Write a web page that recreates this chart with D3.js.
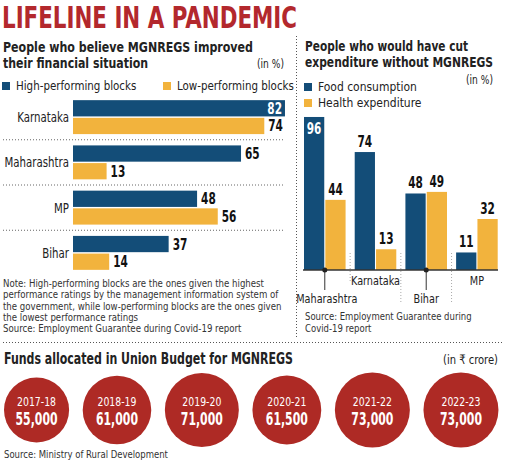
<!DOCTYPE html>
<html>
<head>
<meta charset="utf-8">
<script src="https://d3js.org/d3.v7.min.js"></script>
<style>
  body { margin: 0; background: #fff; }
  svg text { font-family: "DejaVu Sans Condensed", "DejaVu Sans", sans-serif; fill: #222; }
</style>
</head>
<body>
<div id="chart"></div>
<script>
// ---- data ----
var states1 = ["Karnataka", "Maharashtra", "MP", "Bihar"];
var highBlocks = [82, 65, 48, 37];
var lowBlocks = [74, 13, 56, 14];
var series1 = ["High-performing blocks", "Low-performing blocks"];

var states2 = ["Maharashtra", "Karnataka", "Bihar", "MP"];
var foodCut = [96, 74, 48, 11];
var healthCut = [44, 13, 49, 32];
var series2 = ["Food consumption", "Health expenditure"];

var years = ["2017-18", "2018-19", "2019-20", "2020-21", "2021-22", "2022-23"];
var funds = [55000, 61000, 71000, 61500, 73000, 73000];

var noteLines = [
  "Note: High-performing blocks are the ones given the highest",
  "performance ratings by the management information system of",
  "the government, while low-performing blocks are the ones given",
  "the lowest performance ratings",
  "Source: Employment Guarantee during Covid-19 report"
];

var svgWidth = 505;
var svgHeight = 464;
var blue = "#134d78";
var yellow = "#f2b33d";
var red = "#ae2a25";
var colors = [blue, yellow];

var svg = d3.select("#chart")
  .append("svg")
  .attr("width", svgWidth)
  .attr("height", svgHeight);

function addText(x, y, s, size, weight, anchor) {
  return svg.append("text")
    .attr("x", x)
    .attr("y", y)
    .attr("font-size", size)
    .attr("font-weight", weight || "normal")
    .attr("text-anchor", anchor || "start")
    .text(s);
}

// the original uses a narrow font, so squeeze our text horizontally
function fit(sel, w) {
  return sel.attr("textLength", w).attr("lengthAdjust", "spacingAndGlyphs");
}
function squeeze(sel, k) {
  sel.each(function() {
    var w = this.getComputedTextLength();
    d3.select(this).attr("textLength", w * k).attr("lengthAdjust", "spacingAndGlyphs");
  });
  return sel;
}

// headline
fit(addText(2, 28, "LIFELINE IN A PANDEMIC", 31, "bold"), 295)
  .style("fill", "#b3282d");

// separators
svg.append("line")
  .attr("x1", 296.5).attr("x2", 296.5).attr("y1", 36).attr("y2", 338)
  .attr("stroke", "#555").attr("stroke-dasharray", "1,2");
svg.append("line")
  .attr("x1", 3).attr("x2", 502).attr("y1", 342.5).attr("y2", 342.5)
  .attr("stroke", "#555").attr("stroke-dasharray", "1,2");

// ---- left chart: horizontal bars ----
fit(addText(3, 52, "People who believe MGNREGS improved", 14.5, "bold"), 250);
fit(addText(3, 68, "their financial situation", 14.5, "bold"), 145);
fit(addText(284, 68, "(in %)", 13, "normal", "end"), 27);

series1.forEach(function(s, i) {
  var lx = i === 0 ? 2 : 163;
  svg.append("rect")
    .attr("x", lx).attr("y", 82).attr("width", 8).attr("height", 8)
    .attr("fill", colors[i]);
  squeeze(addText(lx + 14, 90, s, 13), 0.88);
});

var y0 = d3.scaleBand()
  .domain(states1)
  .range([94.5, 275.5])
  .paddingInner(0.25)
  .paddingOuter(0.125);

var y1 = d3.scaleBand()
  .domain([0, 1])
  .range([0, y0.bandwidth()])
  .paddingInner(0.08);

var xLeft = d3.scaleLinear()
  .domain([0, 100])
  .range([73, 331.5]);

var leftData = states1.map(function(st, i) {
  return { state: st, values: [highBlocks[i], lowBlocks[i]] };
});

// dotted group separators
states1.slice(1).forEach(function(st) {
  var yy = y0(st) - (y0.step() - y0.bandwidth()) / 2;
  svg.append("line")
    .attr("x1", 3).attr("x2", 285).attr("y1", yy).attr("y2", yy)
    .attr("stroke", "#666").attr("stroke-dasharray", "1,2");
});

var leftGroups = svg.selectAll(".lgroup")
  .data(leftData)
  .enter()
  .append("g")
  .attr("class", "lgroup")
  .attr("transform", d => `translate(0, ${y0(d.state)})`);

squeeze(leftGroups.append("text")
  .attr("x", 69)
  .attr("y", y0.bandwidth() / 2 + 5)
  .attr("text-anchor", "end")
  .attr("font-size", 14)
  .text(d => d.state), 0.81);

leftGroups.selectAll("rect")
  .data(d => d.values)
  .enter()
  .append("rect")
  .attr("x", xLeft(0))
  .attr("y", (d, i) => y1(i))
  .attr("width", d => xLeft(d) - xLeft(0))
  .attr("height", y1.bandwidth())
  .attr("fill", (d, i) => colors[i]);

squeeze(leftGroups.selectAll(".val")
  .data(d => d.values)
  .enter()
  .append("text")
  .attr("class", "val")
  .attr("x", d => d >= 80 ? xLeft(d) - 3 : xLeft(d) + 4)
  .attr("y", (d, i) => y1(i) + y1.bandwidth() / 2 + 5.5)
  .attr("text-anchor", d => d >= 80 ? "end" : "start")
  .attr("font-size", 15)
  .attr("font-weight", "bold")
  .style("fill", d => d >= 80 ? "#fff" : "#111")
  .text(d => d), 0.78);

noteLines.forEach(function(line, i) {
  squeeze(addText(3, 287 + i * 11.25, line, 10.5), 0.91).style("fill", "#333");
});

// ---- right chart: vertical bars ----
fit(addText(305, 51, "People who would have cut", 14.5, "bold"), 163);
fit(addText(305, 67, "expenditure without MGNREGS", 14.5, "bold"), 188);
fit(addText(493, 84, "(in %)", 13, "normal", "end"), 27);

series2.forEach(function(s, i) {
  svg.append("rect")
    .attr("x", 304).attr("y", 83 + i * 16).attr("width", 8).attr("height", 8)
    .attr("fill", colors[i]);
  squeeze(addText(318, 91 + i * 16, s, 13), 0.92);
});

var x0 = d3.scaleBand()
  .domain(states2)
  .range([304, 497.7])
  .paddingInner(0.18)
  .paddingOuter(0);

var x1 = d3.scaleBand()
  .domain([0, 1])
  .range([0, x0.bandwidth()])
  .paddingInner(0.05);

var yRight = d3.scaleLinear()
  .domain([0, 100])
  .range([270, 110.6]);

// dividers between groups
states2.slice(1).forEach(function(st, i) {
  var xx = x0(st) - (x0.step() - x0.bandwidth()) / 2;
  svg.append("line")
    .attr("x1", xx).attr("x2", xx)
    .attr("y1", 253).attr("y2", i === 0 ? 283 : 303)
    .attr("stroke", "#aaa").attr("stroke-dasharray", "1,2");
});

var rightData = states2.map(function(st, i) {
  return { state: st, values: [foodCut[i], healthCut[i]] };
});

var rightGroups = svg.selectAll(".rgroup")
  .data(rightData)
  .enter()
  .append("g")
  .attr("class", "rgroup")
  .attr("transform", d => `translate(${x0(d.state)}, 0)`);

rightGroups.selectAll("rect")
  .data(d => d.values)
  .enter()
  .append("rect")
  .attr("x", (d, i) => x1(i))
  .attr("y", d => yRight(d))
  .attr("width", x1.bandwidth())
  .attr("height", d => yRight(0) - yRight(d))
  .attr("fill", (d, i) => colors[i]);

squeeze(rightGroups.selectAll(".val")
  .data(d => d.values)
  .enter()
  .append("text")
  .attr("class", "val")
  .attr("x", (d, i) => x1(i) + x1.bandwidth() / 2)
  .attr("y", d => d >= 90 ? yRight(d) + 17 : yRight(d) - 5)
  .attr("text-anchor", "middle")
  .attr("font-size", 15)
  .attr("font-weight", "bold")
  .style("fill", d => d >= 90 ? "#fff" : "#111")
  .text(d => d), 0.78);

// baseline
svg.append("line")
  .attr("x1", 303).attr("x2", 498)
  .attr("y1", yRight(0)).attr("y2", yRight(0))
  .attr("stroke", "#333").attr("stroke-width", 1.5);

// category labels, two of them hang lower with a pointer
states2.forEach(function(st, i) {
  var cx = x0(st) + x0.bandwidth() / 2;
  var low = i % 2 === 0;
  if (low) {
    svg.append("line")
      .attr("x1", cx).attr("x2", cx).attr("y1", yRight(0)).attr("y2", 290)
      .attr("stroke", "#333");
    svg.append("circle")
      .attr("cx", cx).attr("cy", yRight(0)).attr("r", 2.5)
      .attr("fill", "#222");
  }
  squeeze(addText(cx + (i === 0 ? 2 : 0), low ? 303 : 285, st, 12.5, "normal", "middle"), 0.86);
});

squeeze(addText(305, 320, "Source: Employment Guarantee during", 10.5), 0.9).style("fill", "#333");
squeeze(addText(305, 331.5, "Covid-19 report", 10.5), 0.9).style("fill", "#333");

// ---- bottom: funds bubbles ----
fit(addText(4, 364, "Funds allocated in Union Budget for MGNREGS", 16.5, "bold"), 289);
fit(addText(498, 364, "(in \u20b9 crore)", 13, "normal", "end"), 55);

var r = d3.scaleSqrt()
  .domain([0, d3.max(funds)])
  .range([0, 37.5]);

var gap = 13.6;
var cxs = [];
var edge = 4;
funds.forEach(function(v) {
  cxs.push(edge + r(v));
  edge += 2 * r(v) + gap;
});

var bubbles = svg.selectAll(".bubble")
  .data(funds)
  .enter()
  .append("g")
  .attr("class", "bubble")
  .attr("transform", (d, i) => `translate(${cxs[i]}, 410)`);

bubbles.append("circle")
  .attr("r", d => r(d))
  .attr("fill", red);

fit(bubbles.append("text")
  .attr("y", -4)
  .attr("text-anchor", "middle")
  .attr("font-size", 13)
  .style("fill", "#fff")
  .text((d, i) => years[i]), 39);

fit(bubbles.append("text")
  .attr("y", 14.5)
  .attr("text-anchor", "middle")
  .attr("font-size", 17.5)
  .attr("font-weight", "bold")
  .style("fill", "#fff")
  .text(d => d3.format(",")(d)), 42);

squeeze(addText(4, 458, "Source: Ministry of Rural Development", 10.5), 0.9).style("fill", "#333");
</script>
</body>
</html>
